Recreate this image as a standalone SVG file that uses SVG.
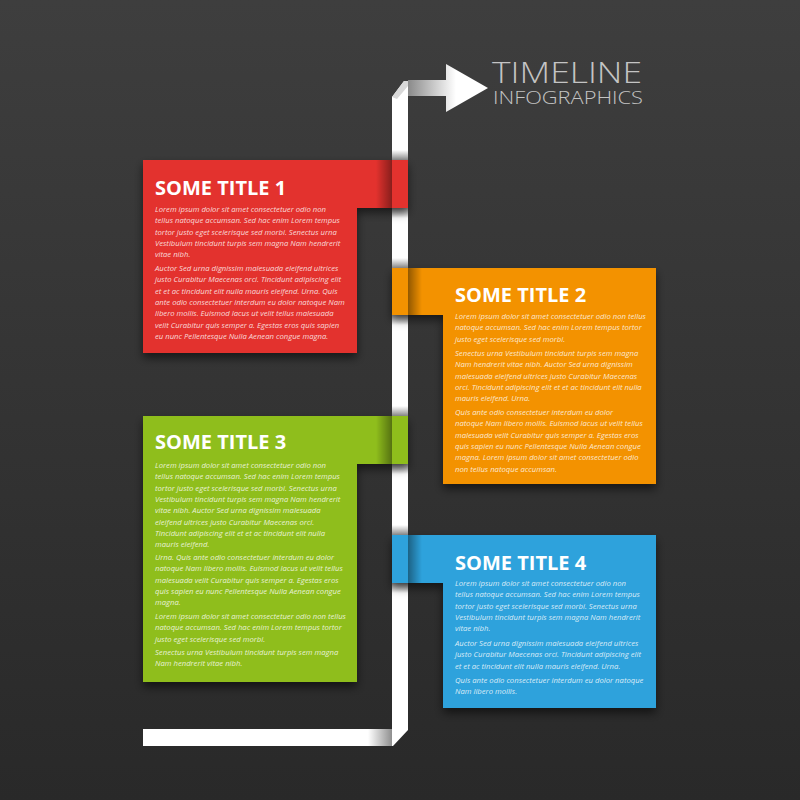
<svg xmlns="http://www.w3.org/2000/svg" width="800" height="800" viewBox="0 0 800 800">
<defs>
<linearGradient id="bg" x1="0" y1="0" x2="0" y2="1">
<stop offset="0" stop-color="#3e3e3e"/>
<stop offset="1" stop-color="#292929"/>
</linearGradient>
<linearGradient id="armG" x1="0" y1="0" x2="1" y2="0">
<stop offset="0" stop-color="#8a8a8a"/>
<stop offset="0.6" stop-color="#ffffff"/>
<stop offset="1" stop-color="#ffffff"/>
</linearGradient>
<linearGradient id="botG" x1="0" y1="0" x2="1" y2="0">
<stop offset="0" stop-color="#ffffff"/>
<stop offset="0.9" stop-color="#ffffff"/>
<stop offset="1" stop-color="#8a8a8a"/>
</linearGradient>
<linearGradient id="shL" x1="0" y1="0" x2="1" y2="0">
<stop offset="0" stop-color="#000" stop-opacity="0"/>
<stop offset="1" stop-color="#000" stop-opacity="0.4"/>
</linearGradient>
<linearGradient id="shR" x1="0" y1="0" x2="1" y2="0">
<stop offset="0" stop-color="#000" stop-opacity="0.4"/>
<stop offset="1" stop-color="#000" stop-opacity="0"/>
</linearGradient>
<linearGradient id="shUp" x1="0" y1="0" x2="0" y2="1">
<stop offset="0" stop-color="#000" stop-opacity="0"/>
<stop offset="1" stop-color="#000" stop-opacity="0.45"/>
</linearGradient>
<linearGradient id="shDn" x1="0" y1="0" x2="0" y2="1">
<stop offset="0" stop-color="#000" stop-opacity="0.45"/>
<stop offset="1" stop-color="#000" stop-opacity="0"/>
</linearGradient>
<filter id="ds" x="-10%" y="-10%" width="120%" height="130%">
<feDropShadow dx="0" dy="5" stdDeviation="5" flood-color="#000" flood-opacity="0.55"/>
</filter>
</defs>
<style>
.tt{font-family:"Open Sans","DejaVu Sans",sans-serif;font-weight:700;font-size:20px;fill:#ffffff}
.b{font-family:"Open Sans","DejaVu Sans",sans-serif;font-style:italic;font-size:7.7px;fill:#ffffff;fill-opacity:0.82}
.hd{font-family:"Open Sans","DejaVu Sans",sans-serif;font-weight:300;fill:#c4c4c4}
</style>
<rect width="800" height="800" fill="url(#bg)"/>

<g id="heading">
<text class="hd"><tspan x="492" y="83" font-size="29" textLength="150" lengthAdjust="spacingAndGlyphs">TIMELINE</tspan><tspan x="493" y="104" font-size="17.5" textLength="150" lengthAdjust="spacingAndGlyphs">INFOGRAPHICS</tspan></text>
</g>

<g id="connectors">
<rect x="143" y="729" width="250" height="17" fill="url(#botG)"/>
<polygon points="392,97 404,81 408,81 408,730 393,746 392,746" fill="#ffffff"/>
<polygon points="408,80 446,80 446,64 488,88 446,112 446,96 408,96" fill="url(#armG)"/>
<polygon points="392,97 404,81 408,81 408,86 397,99" fill="#d8d8d8"/>
<rect x="392" y="150" width="16" height="10" fill="url(#shUp)"/>
<rect x="392" y="208" width="16" height="10" fill="url(#shDn)"/>
<rect x="392" y="258" width="16" height="10" fill="url(#shUp)"/>
<rect x="392" y="315" width="16" height="10" fill="url(#shDn)"/>
<rect x="392" y="406" width="16" height="10" fill="url(#shUp)"/>
<rect x="392" y="464" width="16" height="10" fill="url(#shDn)"/>
<rect x="392" y="525" width="16" height="10" fill="url(#shUp)"/>
<rect x="392" y="583" width="16" height="10" fill="url(#shDn)"/>
</g>

<g id="card1">
<polygon points="143,160 408,160 408,208 357,208 357,353 143,353" fill="#e3322e" filter="url(#ds)"/>
<rect x="376" y="160" width="16" height="48" fill="url(#shL)"/>
<text class="tt" x="155" y="195">SOME TITLE 1</text>
<text class="b" x="155" y="212">Lorem ipsum dolor sit amet consectetuer odio non</text>
<text class="b" x="155" y="223.3">tellus natoque accumsan. Sed hac enim Lorem tempus</text>
<text class="b" x="155" y="234.6">tortor justo eget scelerisque sed morbi. Senectus urna</text>
<text class="b" x="155" y="245.9">Vestibulum tincidunt turpis sem magna Nam hendrerit</text>
<text class="b" x="155" y="257.2">vitae nibh.</text>
<text class="b" x="155" y="271">Auctor Sed urna dignissim malesuada eleifend ultrices</text>
<text class="b" x="155" y="282.3">justo Curabitur Maecenas orci. Tincidunt adipiscing elit</text>
<text class="b" x="155" y="293.6">et et ac tincidunt elit nulla mauris eleifend. Urna. Quis</text>
<text class="b" x="155" y="304.9">ante odio consectetuer interdum eu dolor natoque Nam</text>
<text class="b" x="155" y="316.2">libero mollis. Euismod lacus ut velit tellus malesuada</text>
<text class="b" x="155" y="327.5">velit Curabitur quis semper a. Egestas eros quis sapien</text>
<text class="b" x="155" y="338.8">eu nunc Pellentesque Nulla Aenean congue magna.</text>
</g>

<g id="card2">
<polygon points="392,268 656,268 656,484 443,484 443,315 392,315" fill="#f39200" filter="url(#ds)"/>
<rect x="408" y="268" width="14" height="47" fill="url(#shR)"/>
<text class="tt" x="455" y="302">SOME TITLE 2</text>
<text class="b" x="455" y="319">Lorem ipsum dolor sit amet consectetuer odio non tellus</text>
<text class="b" x="455" y="330.3">natoque accumsan. Sed hac enim Lorem tempus tortor</text>
<text class="b" x="455" y="341.6">justo eget scelerisque sed morbi.</text>
<text class="b" x="455" y="356">Senectus urna Vestibulum tincidunt turpis sem magna</text>
<text class="b" x="455" y="367.3">Nam hendrerit vitae nibh. Auctor Sed urna dignissim</text>
<text class="b" x="455" y="378.6">malesuada eleifend ultrices justo Curabitur Maecenas</text>
<text class="b" x="455" y="389.9">orci. Tincidunt adipiscing elit et et ac tincidunt elit nulla</text>
<text class="b" x="455" y="401.2">mauris eleifend. Urna.</text>
<text class="b" x="455" y="415">Quis ante odio consectetuer interdum eu dolor</text>
<text class="b" x="455" y="426.3">natoque Nam libero mollis. Euismod lacus ut velit tellus</text>
<text class="b" x="455" y="437.6">malesuada velit Curabitur quis semper a. Egestas eros</text>
<text class="b" x="455" y="448.9">quis sapien eu nunc Pellentesque Nulla Aenean congue</text>
<text class="b" x="455" y="460.2">magna. Lorem ipsum dolor sit amet consectetuer odio</text>
<text class="b" x="455" y="471.5">non tellus natoque accumsan.</text>
</g>

<g id="card3">
<polygon points="143,416 408,416 408,464 357,464 357,682 143,682" fill="#8fbe1f" filter="url(#ds)"/>
<rect x="376" y="416" width="16" height="48" fill="url(#shL)"/>
<text class="tt" x="155" y="449">SOME TITLE 3</text>
<text class="b" x="155" y="468">Lorem ipsum dolor sit amet consectetuer odio non</text>
<text class="b" x="155" y="479.3">tellus natoque accumsan. Sed hac enim Lorem tempus</text>
<text class="b" x="155" y="490.6">tortor justo eget scelerisque sed morbi. Senectus urna</text>
<text class="b" x="155" y="501.9">Vestibulum tincidunt turpis sem magna Nam hendrerit</text>
<text class="b" x="155" y="513.2">vitae nibh. Auctor Sed urna dignissim malesuada</text>
<text class="b" x="155" y="524.5">eleifend ultrices justo Curabitur Maecenas orci.</text>
<text class="b" x="155" y="535.8">Tincidunt adipiscing elit et et ac tincidunt elit nulla</text>
<text class="b" x="155" y="547.1">mauris eleifend.</text>
<text class="b" x="155" y="560">Urna. Quis ante odio consectetuer interdum eu dolor</text>
<text class="b" x="155" y="571.3">natoque Nam libero mollis. Euismod lacus ut velit tellus</text>
<text class="b" x="155" y="582.6">malesuada velit Curabitur quis semper a. Egestas eros</text>
<text class="b" x="155" y="593.9">quis sapien eu nunc Pellentesque Nulla Aenean congue</text>
<text class="b" x="155" y="605.2">magna.</text>
<text class="b" x="155" y="619">Lorem ipsum dolor sit amet consectetuer odio non tellus</text>
<text class="b" x="155" y="630.3">natoque accumsan. Sed hac enim Lorem tempus tortor</text>
<text class="b" x="155" y="641.6">justo eget scelerisque sed morbi.</text>
<text class="b" x="155" y="655">Senectus urna Vestibulum tincidunt turpis sem magna</text>
<text class="b" x="155" y="666.3">Nam hendrerit vitae nibh.</text>
</g>

<g id="card4">
<polygon points="392,535 656,535 656,708 443,708 443,583 392,583" fill="#2fa2dc" filter="url(#ds)"/>
<rect x="408" y="535" width="14" height="48" fill="url(#shR)"/>
<text class="tt" x="455" y="570">SOME TITLE 4</text>
<text class="b" x="455" y="586">Lorem ipsum dolor sit amet consectetuer odio non</text>
<text class="b" x="455" y="597.3">tellus natoque accumsan. Sed hac enim Lorem tempus</text>
<text class="b" x="455" y="608.6">tortor justo eget scelerisque sed morbi. Senectus urna</text>
<text class="b" x="455" y="619.9">Vestibulum tincidunt turpis sem magna Nam hendrerit</text>
<text class="b" x="455" y="631.2">vitae nibh.</text>
<text class="b" x="455" y="646">Auctor Sed urna dignissim malesuada eleifend ultrices</text>
<text class="b" x="455" y="657.3">justo Curabitur Maecenas orci. Tincidunt adipiscing elit</text>
<text class="b" x="455" y="668.6">et et ac tincidunt elit nulla mauris eleifend. Urna.</text>
<text class="b" x="455" y="683">Quis ante odio consectetuer interdum eu dolor natoque</text>
<text class="b" x="455" y="694.3">Nam libero mollis.</text>
</g>
</svg>
